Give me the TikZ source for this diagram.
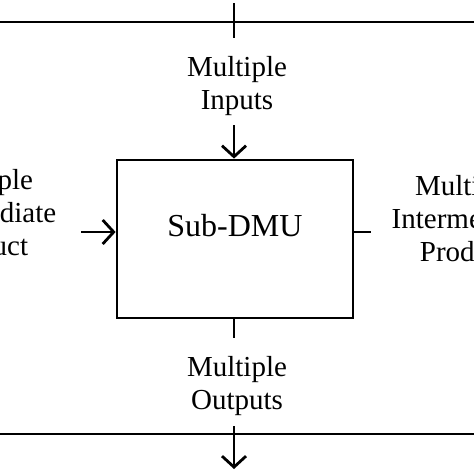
\documentclass[tikz,border=0pt]{standalone}
\usepackage{fontspec}
\setmainfont{Liberation Serif}
\usetikzlibrary{arrows.meta, calc}

\tikzset{
	lbl/.style={align=center, inner sep=0pt, font=\fontsize{29}{33}\selectfont},
	wire/.style={line width=2.8pt},
	flow/.style={wire, -{Straight Barb[length=11pt, width=24pt]}},
}

\begin{document}
\begin{tikzpicture}[x=1pt, y=-1pt]
	\def \mid {234}
	\clip (0,0) rectangle (474,474);

	\node[draw, line width=2.8pt, rectangle, minimum width=236pt, minimum height=158pt,
		inner sep=0pt, text depth=28pt, font=\fontsize{32}{32}\selectfont]
		(subdmu) at (235,239) {Sub-DMU};

	\node[lbl] (inputs)  at (237,86.5) {Multiple\\Inputs};
	\node[lbl] (outputs) at (237,386.4) {Multiple\\Outputs};
	\node[lbl] (interin) at (-17,213) {Multiple\\Intermediate\\Product};
	\node[lbl] (interout) at (465,219) {Multiple\\Intermediate\\Product};

	% lines to the other sub-DMUs
	\coordinate (topleft)  at (0,22);
	\coordinate (topright) at (474,22);
	\coordinate (botleft)  at (0,434);
	\coordinate (botright) at (474,434);
	\draw[wire] (topleft) -- (topright);
	\draw[wire] (botleft) -- (botright);

	\coordinate (toptick) at (\mid,3);
	\coordinate (topstub) at (\mid,38);
	\coordinate (inarrow) at (\mid,125);
	\coordinate (outstub) at (\mid,338);
	\coordinate (downtop) at (\mid,426);
	\coordinate (downend) at (\mid,469);
	\coordinate (leftarrow) at (81,232);
	\coordinate (rightstub) at (371,232);

	\draw[wire] (toptick) -- (topstub);
	\draw[flow] (inarrow) -- (inarrow |- subdmu.north);
	\draw[wire] (outstub |- subdmu.south) -- (outstub);
	\draw[flow] (downtop) -- (downend);
	\draw[flow] (leftarrow) -- (leftarrow -| subdmu.west);
	\draw[wire] (rightstub -| subdmu.east) -- (rightstub);
\end{tikzpicture}
\end{document}
